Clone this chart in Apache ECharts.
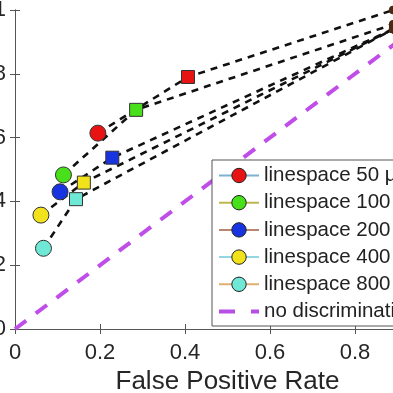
<!DOCTYPE html>
<html><head><meta charset="utf-8">
<script src="https://cdn.jsdelivr.net/npm/echarts@6/dist/echarts.min.js"></script>
<style>html,body{margin:0;padding:0;background:#fff}#c{width:393px;height:393px}</style>
</head><body><div id="c"></div>
<script>
var seriesNames = ['linespace 50 \u03bcm', 'linespace 100 \u03bcm', 'linespace 200 \u03bcm', 'linespace 400 \u03bcm', 'linespace 800 \u03bcm'];
var circleFPR = [0.195, 0.114, 0.106, 0.061, 0.067];
var circleTPR = [0.614, 0.483, 0.430, 0.357, 0.253];
var squareFPR = [0.407, 0.285, 0.229, 0.162, 0.1435];
var squareTPR = [0.790, 0.687, 0.537, 0.459, 0.407];
var endFPR = [0.89, 0.89, 0.89, 0.89, 0.89];
var endTPR = [1.0, 0.955, 0.94, 0.94, 0.94];
var diagX = [0, 1];
var diagY = [0, 1];
var xTicks = [0, 0.2, 0.4, 0.6, 0.8, 1];
var yTicks = [0, 0.2, 0.4, 0.6, 0.8, 1];
var diagName = 'no discrimination';

var markerColors = ['#e81414', '#48e01a', '#1834e0', '#f2e21c', '#70e8d6'];
var legendLineColors = ['#7fb2cf', '#bdb84e', '#b98672', '#95d6e2', '#ddb072'];
var FONT = '"Liberation Sans", Arial, sans-serif';

var chart = echarts.init(document.getElementById('c'), null, {renderer: 'canvas'});
var series = [];
for (var i = 0; i < seriesNames.length; i++) {
  series.push({
    name: seriesNames[i],
    type: 'line',
    symbol: 'circle',
    symbolSize: 15,
    itemStyle: {color: markerColors[i], borderColor: '#333', borderWidth: 1},
    lineStyle: {color: '#111', width: 2.6, type: [7, 6]},
    z: 3,
    data: [
      {value: [circleFPR[i], circleTPR[i]], symbol: 'circle', symbolSize: 16},
      {value: [squareFPR[i], squareTPR[i]], symbol: 'rect', symbolSize: 13},
      {value: [endFPR[i], endTPR[i]], symbol: 'circle', symbolSize: 8, itemStyle: {color: '#4a2a14', borderColor: '#4a2a14'}}
    ]
  });
}
series.push({
  name: diagName,
  type: 'line',
  symbol: 'none',
  itemStyle: {color: '#c04de8'},
  lineStyle: {color: '#c04de8', width: 4, type: [14, 12]},
  z: 2,
  data: diagX.map(function (x, k) { return [x, diagY[k]]; })
});

var legendData = seriesNames.map(function (n, i) {
  return {
    name: n,
    itemStyle: {color: markerColors[i], borderColor: '#222', borderWidth: 1},
    lineStyle: {color: legendLineColors[i], width: 2, type: 'solid'}
  };
});
legendData.push({
  name: diagName,
  itemStyle: {color: 'rgba(0,0,0,0)', borderWidth: 0, opacity: 0},
  lineStyle: {color: '#b84fe4', width: 4, type: [16, 16], opacity: 1}
});

var axisCommon = {
  type: 'value', min: 0, max: 1, interval: 0.2,
  axisLine: {show: true, lineStyle: {color: '#555', width: 1}},
  axisTick: {show: true, inside: true, length: 5, lineStyle: {color: '#555'}},
  splitLine: {show: false}
};

chart.setOption({
  animation: false,
  backgroundColor: '#fff',
  grid: {left: 15, top: 10, right: -47, bottom: 64, containLabel: false, outerBoundsMode: 'none'},
  xAxis: [
    Object.assign({}, axisCommon, {
      position: 'bottom',
      name: 'False Positive Rate', nameLocation: 'middle', nameGap: 36,
      nameTextStyle: {fontSize: 26, color: '#262626', fontFamily: FONT},
      axisLabel: {fontSize: 22, color: '#262626', fontFamily: FONT, margin: 13,
        formatter: function (v) { return xTicks.indexOf(v) >= 0 ? String(v) : ''; }}
    }),
    Object.assign({}, axisCommon, {position: 'top', axisLabel: {show: false}})
  ],
  yAxis: [
    Object.assign({}, axisCommon, {
      position: 'left',
      axisLabel: {fontSize: 22, color: '#262626', fontFamily: FONT, margin: 9,
        formatter: function (v) { return yTicks.indexOf(v) >= 0 ? String(v) : ''; }}
    }),
    Object.assign({}, axisCommon, {position: 'right', axisLabel: {show: false}})
  ],
  legend: {
    orient: 'vertical', left: 212, top: 160,
    itemWidth: 40, itemHeight: 18, itemGap: 6.2,
    padding: [5, 200, 4, 5],
    backgroundColor: '#fff', borderColor: '#555', borderWidth: 1,
    textStyle: {fontSize: 20.5, lineHeight: 20, color: '#222', fontFamily: FONT},
    data: legendData
  },
  series: series
});
</script>
</body></html>
